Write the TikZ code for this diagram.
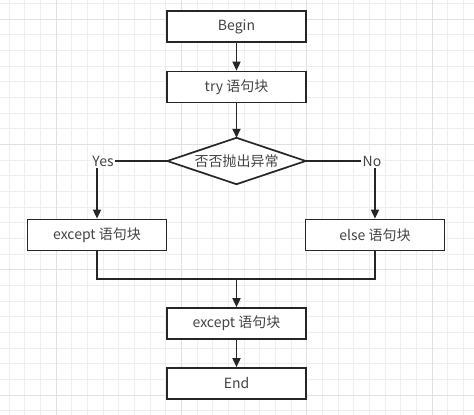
\documentclass[tikz,border=0pt]{standalone}
\usepackage{fontspec}
\setmainfont{Noto Sans CJK SC}
\usetikzlibrary{arrows.meta}
\definecolor{gridminor}{HTML}{EEEEEE}
\definecolor{gridmajor}{HTML}{E0E0E0}
\definecolor{ink}{HTML}{262626}
\definecolor{txt}{HTML}{444444}
\tikzset{
  box/.style={draw=ink, line width=1.7pt, fill=white, minimum width=139pt, minimum height=31pt, inner sep=0pt, text=txt, font=\fontsize{14}{16}\selectfont},
  dia/.style={draw=none, minimum width=138pt, minimum height=46pt, inner sep=0pt, text=txt, font=\fontsize{14}{16}\selectfont},
  diaedge/.style={draw=ink, line width=1.7pt, fill=white, line join=miter},
  lab/.style={fill=white, inner sep=1.5pt, text=txt, font=\fontsize{14}{16}\selectfont},
  conn/.style={draw=ink, line width=1.7pt},
  arr/.style={conn, -{Triangle[length=9pt,width=8pt]}},
}
\begin{document}
\begin{tikzpicture}[x=1pt,y=-1pt]
\useasboundingbox (0,0) rectangle (474,415);
\fill[white] (0,0) rectangle (474,415);
\foreach \i in {0,...,30} {
  \draw[gridminor, line width=0.8pt] ({9+15.67*\i},0) -- ({9+15.67*\i},415);
}
\foreach \i in {0,...,26} {
  \draw[gridminor, line width=0.8pt] (0,{3.3+15.67*\i}) -- (474,{3.3+15.67*\i});
}
\foreach \i in {0,...,3} {
  \draw[gridmajor, line width=0.8pt] ({56+125.33*\i},0) -- ({56+125.33*\i},415);
  \draw[gridmajor, line width=0.8pt] (0,{19+125.33*\i}) -- (474,{19+125.33*\i});
}
\node[box] (begin) at (236.5,26.5) {Begin};
\node[box] (try) at (236.5,87) {try 语句块};
\node[dia] (d) at (236.5,161) {};
\draw[diaedge] (d.north) -- (d.east) -- (d.south) -- (d.west) -- cycle;
\node[dia] (dtext) at (d.center) {否否抛出异常};
\node[box] (exc) at (97,235) {except 语句块};
\node[box] (els) at (375,235) {else 语句块};
\node[box] (fin) at (236.5,323.5) {except 语句块};
\node[box] (end) at (236.5,383.5) {End};
\coordinate (j) at (236.5,279);
\draw[arr] (begin) -- (try);
\draw[arr] (try) -- (d.north);
\draw[arr] (d.west) -| (exc.north);
\draw[arr] (d.east) -| (els.north);
\node[lab] (yes) at (103,161) {Yes};
\node[lab] (no) at (372,161) {No};
\draw[conn] (exc.south) |- (j);
\draw[conn] (els.south) |- (j);
\draw[arr] (j) -- (fin);
\draw[arr] (fin) -- (end);
\end{tikzpicture}
\end{document}
